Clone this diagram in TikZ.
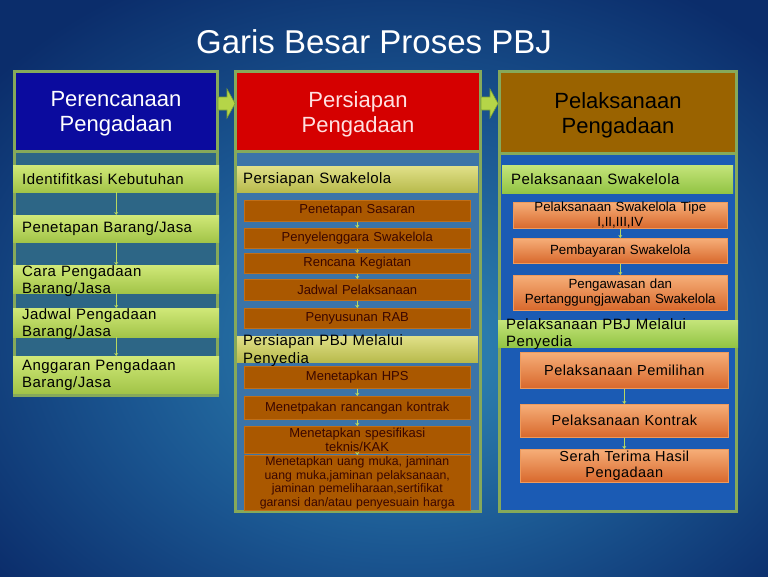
\documentclass[tikz,border=0pt]{standalone}
\usepackage{fontspec}
\setmainfont{Liberation Sans}
\newfontfamily\widesans[LetterSpace=3]{Liberation Sans}
\usetikzlibrary{arrows.meta}

\definecolor{bgcenter}{HTML}{2A7BAC}
\definecolor{bgmid}{HTML}{1A5590}
\definecolor{bgedge}{HTML}{0B2D6B}
\definecolor{frameline}{HTML}{86A95A}
\definecolor{planwell}{HTML}{2D6686}
\definecolor{prepwell}{HTML}{3B74A8}
\definecolor{execwell}{HTML}{1B5BB4}
\definecolor{planblue}{HTML}{0B0B9E}
\definecolor{prepred}{HTML}{D50000}
\definecolor{prepink}{HTML}{FFE0E0}
\definecolor{execbrown}{HTML}{9A6300}
\definecolor{limetop}{HTML}{D0E878}
\definecolor{limebot}{HTML}{A2C448}
\definecolor{khakitop}{HTML}{E0E088}
\definecolor{khakibot}{HTML}{B8BA4C}
\definecolor{greentop}{HTML}{C4E47A}
\definecolor{greenbot}{HTML}{92C444}
\definecolor{rust}{HTML}{AA5800}
\definecolor{rustedge}{HTML}{C06E18}
\definecolor{rusttext}{HTML}{3A0600}
\definecolor{peachtop}{HTML}{F6AE78}
\definecolor{peachbot}{HTML}{D8682C}
\definecolor{peachedge}{HTML}{EE9A5C}
\definecolor{linkgreen}{HTML}{B8D860}
\definecolor{arrowfill}{HTML}{B5D548}
\definecolor{arrowedge}{HTML}{7EA232}

\pgfdeclareradialshading{bgglow}{\pgfpoint{2bp}{-6bp}}{color(0bp)=(bgcenter); color(5bp)=(bgcenter); color(19bp)=(bgmid); color(34bp)=(bgedge); color(72bp)=(bgedge)}

\newcommand{\topcell}[3][0pt]{\vbox to #2{\vskip#1\relax #3\vss}}

\begin{document}
\begin{tikzpicture}[x=1pt, y=-1pt,
    title/.style={anchor=base, text=white, font=\fontsize{33}{38}\selectfont},
    frame/.style={draw=frameline, line width=3pt},
    headbox/.style={anchor=north west, draw=frameline, line width=3pt, inner sep=0pt, outer sep=0pt},
    headtext/.style={align=center, yshift=-2.5pt, font=\fontsize{22}{25}\selectfont},
    limebar/.style={anchor=north west, top color=limetop, bottom color=limebot, inner xsep=9pt, inner ysep=0pt,
        text width=188pt, align=left, font=\widesans\fontsize{15}{17}\selectfont},
    khakibar/.style={anchor=north west, top color=khakitop, bottom color=khakibot, inner xsep=6pt, inner ysep=0pt,
        text width=229pt, align=left, font=\widesans\fontsize{15}{18}\selectfont},
    greenbar/.style={anchor=north west, top color=greentop, bottom color=greenbot, inner ysep=0pt,
        align=left, font=\widesans\fontsize{15}{17}\selectfont},
    rustbox/.style={anchor=north west, fill=rust, draw=rustedge, line width=0.5pt, inner sep=0pt,
        text width=226pt, align=center, text=rusttext, font=\fontsize{13}{14}\selectfont},
    peachbox/.style={anchor=north west, top color=peachtop, bottom color=peachbot, draw=peachedge,
        line width=0.6pt, inner sep=0pt, align=center, text=black},
    peachsmall/.style={peachbox, text width=214pt, font=\fontsize{13.3}{15}\selectfont},
    peachbig/.style={peachbox, text width=208pt, font=\widesans\fontsize{14.5}{16}\selectfont},
    link/.style={draw=linkgreen, line width=1.2pt, -{Stealth[length=3pt, width=4pt]}},
    bigarrow/.style={fill=arrowfill, draw=arrowedge, line width=0.6pt, line join=miter}]

  \fill[shading=bgglow] (0,0) rectangle (768,576);
  \node[title] (title) at (374,53) {Garis Besar Proses PBJ};

  \draw[frame, fill=planwell] (14.5,71.5) rectangle (217.5,395.5);
  \draw[frame, fill=prepwell] (235.5,71.5) rectangle (480.5,511.5);
  \draw[frame, fill=execwell] (499.5,71.5) rectangle (736.5,511.5);

  \node[headbox, fill=planblue, minimum width=203pt, minimum height=80pt,
    label={[headtext, text=white]center:{Perencanaan\\Pengadaan}}] (h1) at (14.5,71.5) {};
  \node[headbox, fill=prepred, minimum width=245pt, minimum height=80pt,
    label={[headtext, text=prepink]center:{Persiapan\\Pengadaan}}] (h2) at (235.5,71.5) {};
  \node[headbox, fill=execbrown, minimum width=237pt, minimum height=82pt,
    label={[headtext, text=black]center:{Pelaksanaan\\Pengadaan}}] (h3) at (499.5,71.5) {};

  \coordinate (gap12) at (218,103.5);
  \coordinate (gap23) at (481,103.5);
  \foreach \g in {gap12,gap23}
    \draw[bigarrow] (\g) ++(0,-6.5) -- ++(9,0) -- ++(0,-8) -- ++(8,14.5) -- ++(-8,14.5) -- ++(0,-8) -- ++(-9,0) -- cycle;

  \node[limebar, minimum height=27pt] (c1a) at (13,165) {Identifitkasi Kebutuhan};
  \node[limebar, minimum height=27pt] (c1b) at (13,215) {Penetapan Barang/Jasa};
  \node[limebar] (c1c) at (13,265) {\topcell{28pt}{Cara Pengadaan\\Barang/Jasa}};
  \node[limebar] (c1d) at (13,308) {\topcell{29pt}{Jadwal Pengadaan\\Barang/Jasa}};
  \node[limebar, minimum height=37pt] (c1e) at (13,356) {Anggaran Pengadaan\\Barang/Jasa};

  \node[khakibar, minimum height=26pt] (b2a) at (237,166) {Persiapan Swakelola};
  \node[rustbox, minimum height=21pt] (o2a) at (244,200) {Penetapan Sasaran};
  \node[rustbox, minimum height=20pt] (o2b) at (244,228) {Penyelenggara Swakelola};
  \node[rustbox, minimum height=20pt] (o2c) at (244,253) {Rencana Kegiatan};
  \node[rustbox, minimum height=21pt] (o2d) at (244,279) {Jadwal Pelaksanaan};
  \node[rustbox, minimum height=20pt] (o2e) at (244,308) {Penyusunan RAB};
  \node[khakibar] (b2b) at (237,336) {\topcell[-1.5pt]{26pt}{Persiapan PBJ Melalui\\Penyedia}};
  \node[rustbox, minimum height=22pt] (o2f) at (244,366) {Menetapkan HPS};
  \node[rustbox, minimum height=23pt] (o2g) at (244,396) {Menetpakan rancangan kontrak};
  \node[rustbox, minimum height=27pt] (o2h) at (244,426) {Menetapkan spesifikasi\\teknis/KAK};
  \node[rustbox, minimum height=55pt, font=\fontsize{12.3}{13.7}\selectfont] (o2i) at (244,455)
    {Menetapkan uang muka, jaminan\\uang muka,jaminan pelaksanaan,\\jaminan pemeliharaan,sertifikat\\garansi dan/atau penyesuain harga};

  \node[greenbar, inner xsep=9pt, text width=213pt, minimum height=28pt] (b3a) at (502,165) {Pelaksanaan Swakelola};
  \node[peachsmall, minimum height=26pt] (o3a) at (513,202) {Pelaksanaan Swakelola Tipe\\I,II,III,IV};
  \node[peachsmall, minimum height=25pt] (o3b) at (513,238) {Pembayaran Swakelola};
  \node[peachsmall, minimum height=35pt] (o3c) at (513,275) {Pengawasan dan\\Pertanggungjawaban Swakelola};
  \node[greenbar, inner xsep=8pt, text width=224pt] (b3b) at (498,320) {\topcell[-1.5pt]{27pt}{Pelaksanaan PBJ Melalui\\Penyedia}};
  \node[peachbig, minimum height=36pt] (o3d) at (520,352) {Pelaksanaan Pemilihan};
  \node[peachbig, minimum height=33pt] (o3e) at (520,404) {Pelaksanaan Kontrak};
  \node[peachbig, minimum height=33pt] (o3f) at (520,449) {Serah Terima Hasil\\Pengadaan};

  \foreach \a/\b in {c1a/c1b, c1b/c1c, c1c/c1d, c1d/c1e,
      o2a/o2b, o2b/o2c, o2c/o2d, o2d/o2e, o2f/o2g, o2g/o2h, o2h/o2i,
      o3a/o3b, o3b/o3c, o3d/o3e, o3e/o3f}
    \draw[link] (\a) -- (\b);
\end{tikzpicture}
\end{document}
